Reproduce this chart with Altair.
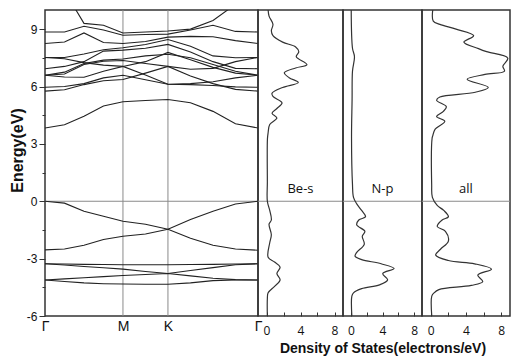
import altair as alt
import pandas as pd

# ---------------- band structure ----------------
k_path = [0.0, 0.25, 0.5, 0.75, 1.0, 1.289, 1.577, 1.866, 2.155, 2.443, 2.732]
k_tick_pos = [0.0, 1.0, 1.577, 2.732]
k_tick_names = ["Γ", "M", "K", "Γ"]

band_v6 = [-4.12, -4.20, -4.27, -4.31, -4.33, -4.34, -4.34, -4.27, -4.15, -4.12, -4.12]
band_v5 = [-4.12, -4.06, -4.00, -3.94, -3.88, -3.83, -3.78, -3.90, -4.03, -4.10, -4.12]
band_v4 = [-3.27, -3.33, -3.41, -3.48, -3.55, -3.67, -3.78, -3.62, -3.47, -3.32, -3.27]
band_v3 = [-3.27, -3.28, -3.30, -3.31, -3.32, -3.32, -3.32, -3.31, -3.30, -3.28, -3.27]
band_v2 = [-2.54, -2.50, -2.30, -2.00, -1.83, -1.71, -1.46, -0.95, -0.52, -0.14, 0.00]
band_v1 = [0.00, -0.10, -0.52, -0.78, -1.05, -1.20, -1.46, -1.93, -2.30, -2.50, -2.56]
band_c1 = [3.83, 4.00, 4.45, 4.98, 5.20, 5.27, 5.32, 5.15, 4.70, 4.05, 3.83]
band_c2 = [5.76, 5.83, 6.10, 6.30, 6.37, 6.70, 7.05, 6.55, 6.15, 5.85, 5.76]
band_c3 = [5.96, 6.00, 6.15, 6.45, 6.59, 6.35, 6.12, 6.10, 6.05, 5.98, 5.96]
band_c4 = [6.59, 6.50, 6.48, 6.80, 7.05, 6.60, 6.12, 6.15, 6.25, 6.45, 6.59]
band_c5 = [6.59, 6.65, 7.15, 7.32, 7.36, 7.20, 7.05, 6.90, 6.95, 7.30, 7.52]
band_c6 = [6.59, 6.75, 7.20, 7.38, 7.44, 7.60, 7.69, 7.50, 7.15, 6.80, 6.59]
band_c7 = [7.52, 7.45, 7.25, 7.12, 7.05, 7.30, 7.78, 7.40, 7.00, 6.70, 6.59]
band_c8 = [6.93, 7.05, 7.30, 7.85, 7.90, 8.00, 8.20, 7.80, 7.30, 6.95, 6.93]
band_c9 = [7.52, 7.52, 7.70, 7.92, 8.03, 8.20, 8.46, 8.10, 7.60, 7.50, 7.52]
band_c10 = [8.25, 8.33, 8.80, 8.30, 8.25, 8.35, 8.58, 8.62, 8.60, 8.40, 8.25]
band_c11 = [8.85, 8.85, 9.15, 8.95, 8.68, 8.72, 8.74, 8.95, 9.20, 8.88, 8.85]
band_c12 = [12.0, 11.0, 9.30, 9.20, 8.80, 8.85, 8.90, 9.00, 9.45, 10.3, 11.0]

bands = [band_v6, band_v5, band_v4, band_v3, band_v2, band_v1, band_c1, band_c2,
         band_c3, band_c4, band_c5, band_c6, band_c7, band_c8, band_c9, band_c10,
         band_c11, band_c12]

energy_ticks = [-6, -4.5, -3, -1.5, 0, 1.5, 3, 4.5, 6, 7.5, 9]

# ---------------- density of states ----------------
bes_energy = [10.0, 9.68, 9.25, 8.91, 8.66, 8.32, 8.07, 7.82, 7.56, 7.14, 6.97, 6.72, 6.46, 6.21,
              5.95, 5.65, 5.48, 5.14, 4.85, 4.60, 4.35, 4.01, 3.58, 3.26, 1.0, 0.0, -0.48, -0.98,
              -1.2, -1.75, -2.17, -2.93, -3.18, -3.44, -3.78, -4.11, -4.45, -4.79, -5.1, -6.0]
bes_dos = [0.19, 0.30, 0.76, 0.57, 0.76, 1.90, 3.43, 3.80, 3.50, 4.76, 3.43, 2.10, 2.66, 3.74,
           1.90, 0.65, 0.76, 1.83, 1.22, 0.65, 1.22, 0.38, 0.19, 0.11, 0.10, 0.10, 0.38, 0.57,
           0.30, 0.57, 0.38, 0.19, 0.95, 1.60, 1.22, 1.60, 0.95, 0.19, 0.10, 0.10]

np_energy = [10.0, 8.0, 7.56, 6.8, 5.3, 3.3, 0.88, 0.2, -0.14, -0.48, -0.81, -0.98, -1.24,
             -1.57, -1.83, -2.25, -2.67, -2.88, -3.05, -3.27, -3.52, -3.78, -4.11, -4.37,
             -4.57, -4.79, -4.96, -6.0]
np_dos = [0.04, 0.20, 0.45, 0.20, 0.15, 0.08, 0.20, 0.33, 0.74, 1.36, 1.85, 1.00, 0.74,
          1.77, 1.44, 1.69, 0.74, 0.53, 1.36, 3.83, 5.47, 4.03, 4.65, 3.62,
          1.36, 0.33, 0.12, 0.12]

all_energy = [10.0, 9.42, 9.25, 9.0, 8.66, 8.32, 7.98, 7.82, 7.48, 7.06, 6.8, 6.63, 6.38, 5.95,
              5.7, 5.45, 5.28, 4.94, 4.69, 4.43, 4.18, 3.76, 3.42, 3.3, 0.88, 0.2, -0.22, -0.48,
              -0.81, -0.98, -1.32, -1.57, -2.08, -2.51, -2.81, -3.10, -3.27, -3.55, -3.86, -4.2,
              -4.4, -4.62, -4.79, -4.96, -6.0]
all_dos = [0.22, 0.28, 1.03, 2.87, 4.87, 3.76, 5.42, 6.34, 8.75, 8.19, 8.37, 6.16, 4.13, 6.53,
           5.06, 1.03, 0.66, 1.77, 1.40, 0.66, 1.59, 0.48, 0.22, 0.15, 0.10, 0.18, 0.73, 1.47,
           2.00, 1.29, 0.73, 1.66, 2.00, 1.10, 0.55, 2.00, 4.98, 6.89, 5.34, 5.90,
           4.60, 0.92, 0.37, 0.11, 0.11]

dos_names = ["Be-s", "N-p", "all"]
dos_ticks = [0, 2, 4, 6, 8]
dos_title = "Density of States(electrons/eV)"

# ---------------- build ----------------
rows = []
for bi, b in enumerate(bands):
    for k, e in zip(k_path, b):
        rows.append({"band": bi, "k": k, "e": e})
band_df = pd.DataFrame(rows)

NUM_FONT = "Liberation Sans"
H = 306
y_scale = alt.Scale(domain=[-6, 10], nice=False, zero=False)

label_expr = ("datum.value < 0.5 ? '{0}' : datum.value < 1.2 ? '{1}' : "
              "datum.value < 2.0 ? '{2}' : '{3}'").format(*k_tick_names)

kx = alt.X("k:Q", scale=alt.Scale(domain=[k_path[0], k_path[-1]], nice=False, zero=False),
           axis=alt.Axis(values=k_tick_pos, labelExpr=label_expr, title=None, tickSize=0,
                         labelPadding=3, labelFlush=False, domain=False, grid=False,
                         labelFontSize=14, labelFont=NUM_FONT))
ey = alt.Y("e:Q", scale=y_scale,
           axis=alt.Axis(values=energy_ticks,
                         labelExpr="datum.value % 3 === 0 ? '' + datum.value : ''",
                         tickSize={"condition": {"test": "datum.value % 3 !== 0", "value": 3},
                                   "value": 6},
                         title="Energy(eV)", titleFontSize=16, titleFontWeight="bold",
                         titleFont=NUM_FONT, titlePadding=1, titleY=140, labelPadding=2,
                         labelFontSize=12, labelFont=NUM_FONT, domain=False, grid=False))

vrules = alt.Chart(pd.DataFrame({"k": k_tick_pos[1:3]})).mark_rule(
    color="#8a8a8a", strokeWidth=1).encode(x=kx)
hrule_b = alt.Chart(pd.DataFrame({"e": [0]})).mark_rule(
    color="#8a8a8a", strokeWidth=1).encode(y=ey)
band_lines = alt.Chart(band_df).mark_line(clip=True, color="#222", strokeWidth=1.1).encode(
    x=kx, y=ey, detail="band:N", order="k:Q")

band_panel = alt.layer(vrules, hrule_b, band_lines).properties(width=213, height=H)


def dos_panel(energy, dos, name, width, title):
    df = pd.DataFrame({"e": energy, "d": dos})
    ax = dict(values=dos_ticks, labelExpr="datum.value % 4 === 0 ? '' + datum.value : ''",
              offset=-4, tickSize=4, domain=False, grid=False, labelPadding=9,
              labelFontSize=12, labelFont="Open Sans")
    if title:
        ax.update(title=title, titleFontSize=14, titleFontWeight="bold", titleFont=NUM_FONT,
                  titlePadding=5)
    else:
        ax.update(title=None)
    dx = alt.X("d:Q", scale=alt.Scale(domain=[-1, 9], nice=False, zero=False),
               axis=alt.Axis(**ax))
    dy = alt.Y("e:Q", scale=y_scale, axis=None)
    hr = alt.Chart(pd.DataFrame({"e": [0]})).mark_rule(color="#8a8a8a", strokeWidth=1).encode(y=dy)
    line = alt.Chart(df).mark_line(interpolate="catmull-rom", color="#333", strokeWidth=1.2,
                                   clip=True).encode(
        x=dx, y=dy, order=alt.Order("e:Q", sort="descending"))
    txt = alt.Chart(pd.DataFrame({"d": [4.0], "e": [0.65], "t": [name]})).mark_text(
        fontSize=13, font="Open Sans", color="#111").encode(x=dx, y=dy, text="t:N")
    return alt.layer(hr, line, txt).properties(width=width, height=H)


p1 = dos_panel(bes_energy, bes_dos, dos_names[0], 85, None)
p2 = dos_panel(np_energy, np_dos, dos_names[1], 79, dos_title)
p3 = dos_panel(all_energy, all_dos, dos_names[2], 88, None)

chart = alt.hconcat(band_panel, p1, p2, p3, spacing=0, bounds="flush").properties(
    padding=0, background="white"
).configure_view(stroke="#333", strokeWidth=1.5).configure_axis(
    labelColor="#111", tickColor="#333", titleColor="#111")

chart.save("out.html", embed_options={"renderer": "svg", "actions": False})
